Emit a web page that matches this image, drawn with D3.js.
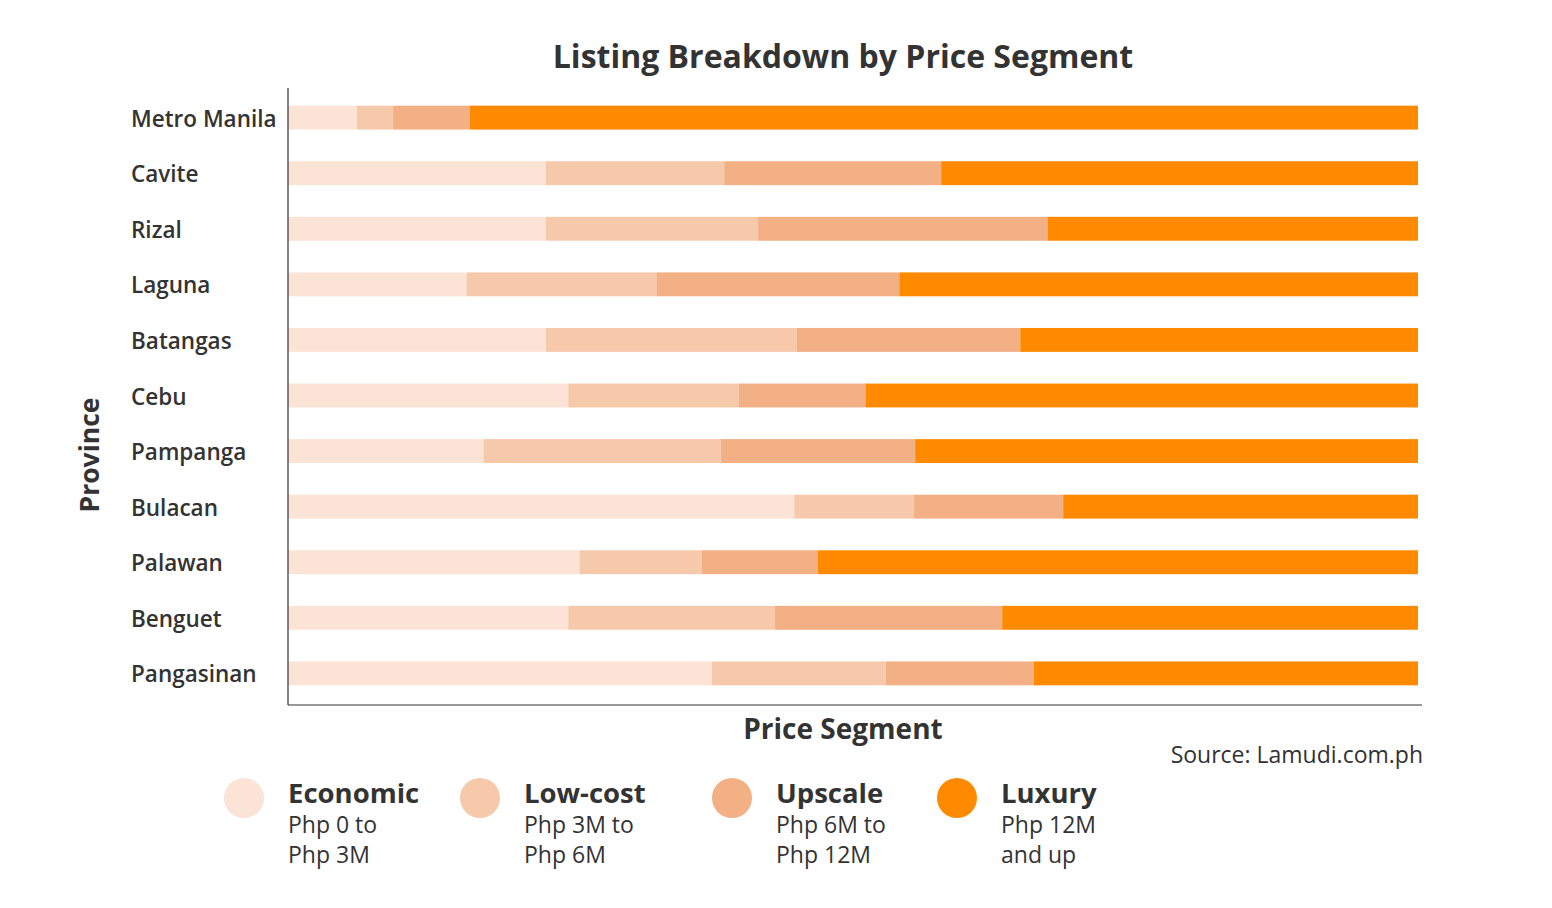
<!DOCTYPE html>
<html>
<head>
<meta charset="utf-8">
<script src="https://cdn.jsdelivr.net/npm/d3@7"></script>
<style>
  body { margin: 0; background: #fff; }
  text { font-family: "Open Sans", Lato, sans-serif; fill: #333; }
</style>
</head>
<body>
<div id="chart"></div>
<script>
// data (percent of listings per segment)
const provinces = ["Metro Manila", "Cavite", "Rizal", "Laguna", "Batangas", "Cebu",
  "Pampanga", "Bulacan", "Palawan", "Benguet", "Pangasinan"];
const segments = ["Economic", "Low-cost", "Upscale", "Luxury"];
const economic = [6.1, 22.8, 22.8, 15.8, 22.8, 24.8, 17.3, 44.8, 25.8, 24.8, 37.5];
const lowCost  = [3.2, 15.8, 18.8, 16.8, 22.2, 15.1, 21.0, 10.6, 10.8, 18.3, 15.4];
const upscale  = [6.8, 19.2, 25.6, 21.5, 19.8, 11.2, 17.2, 13.2, 10.3, 20.1, 13.1];
const luxury   = [83.9, 42.2, 32.8, 45.9, 35.2, 48.9, 44.5, 31.4, 53.1, 36.8, 34.0];
const legendRanges = [["Php 0 to", "Php 3M"], ["Php 3M to", "Php 6M"],
  ["Php 6M to", "Php 12M"], ["Php 12M", "and up"]];
const colors = ["#fbe3d5", "#f6c9ab", "#f3b084", "#ff8a00"];

const width = 1552, height = 908;
const margin = {top: 90, right: 130, bottom: 203, left: 288};

const svg = d3.select("#chart").append("svg")
  .attr("width", width).attr("height", height);

const rows = provinces.map((p, i) => ({
  province: p, Economic: economic[i], "Low-cost": lowCost[i],
  Upscale: upscale[i], Luxury: luxury[i]
}));
rows.forEach(r => {
  const tot = segments.reduce((s, k) => s + r[k], 0);
  segments.forEach(k => r[k] = r[k] / tot * 100);
});

const x = d3.scaleLinear().domain([0, 100]).range([margin.left, 1418]);
const y = d3.scaleBand().domain(provinces)
  .range([margin.top - 1, height - margin.bottom - 3]).paddingInner(0.57).paddingOuter(0.3);
const color = d3.scaleOrdinal().domain(segments).range(colors);

const stack = d3.stack().keys(segments)(rows);

svg.append("g").selectAll("g")
  .data(stack).join("g")
  .attr("fill", d => color(d.key))
  .selectAll("rect")
  .data(d => d).join("rect")
  .attr("x", d => x(d[0]))
  .attr("width", d => x(d[1]) - x(d[0]))
  .attr("y", d => y(d.data.province))
  .attr("height", y.bandwidth());

// axes
const plotBottom = height - margin.bottom;
svg.append("line")
  .attr("x1", margin.left).attr("x2", 1422)
  .attr("y1", plotBottom).attr("y2", plotBottom)
  .attr("stroke", "#999").attr("stroke-width", 2);
svg.append("line")
  .attr("x1", margin.left).attr("x2", margin.left)
  .attr("y1", 88).attr("y2", plotBottom)
  .attr("stroke", "#333").attr("stroke-width", 1.2);

svg.append("g").selectAll("text")
  .data(provinces).join("text")
  .attr("x", 131)
  .attr("y", d => y(d) + y.bandwidth() / 2)
  .attr("dy", "0.4em")
  .attr("font-size", 22.5).attr("font-weight", 600)
  .text(d => d);

// titles
svg.append("text")
  .attr("x", 843).attr("y", 68).attr("text-anchor", "middle")
  .attr("font-size", 32).attr("font-weight", 700)
  .text("Listing Breakdown by Price Segment");
svg.append("text")
  .attr("x", 843).attr("y", 739).attr("text-anchor", "middle")
  .attr("font-size", 28).attr("font-weight", 700)
  .text("Price Segment");
svg.append("text")
  .attr("transform", "translate(99,455) rotate(-90)")
  .attr("text-anchor", "middle")
  .attr("font-size", 26.5).attr("font-weight", 700)
  .text("Province");
svg.append("text")
  .attr("x", 1423).attr("y", 763).attr("text-anchor", "end")
  .attr("font-size", 23)
  .text("Source: Lamudi.com.ph");

// legend
const legendX = [244, 480, 732, 957];
const lg = svg.append("g").selectAll("g")
  .data(segments).join("g")
  .attr("transform", (d, i) => `translate(${legendX[i]},798)`);
lg.append("circle").attr("r", 20).attr("fill", d => color(d));
lg.append("text").attr("x", 44).attr("y", 5)
  .attr("font-size", 27.5).attr("font-weight", 700).text(d => d);
lg.append("text").attr("x", 44).attr("y", 35)
  .attr("font-size", 23).text((d, i) => legendRanges[i][0]);
lg.append("text").attr("x", 44).attr("y", 65)
  .attr("font-size", 23).text((d, i) => legendRanges[i][1]);
</script>
</body>
</html>
